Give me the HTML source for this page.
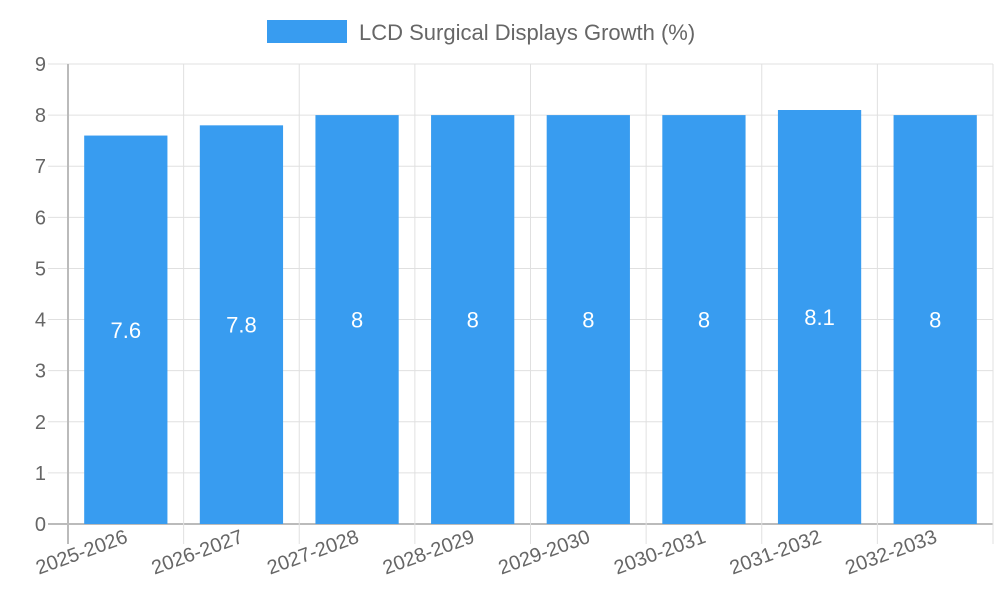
<!DOCTYPE html>
<html><head><meta charset="utf-8"><style>
html,body{margin:0;padding:0;background:#fff;}
svg{display:block;font-family:"Liberation Sans",sans-serif;}
</style></head><body>
<svg id="chart" width="1000" height="600"></svg>
<script>
const categories=["2025-2026","2026-2027","2027-2028","2028-2029","2029-2030","2030-2031","2031-2032","2032-2033"];
const values=[7.6,7.8,8,8,8,8,8.1,8];
const yTicks=[0,1,2,3,4,5,6,7,8,9];
const seriesName="LCD Surgical Displays Growth (%)";

const NS="http://www.w3.org/2000/svg";
const svg=document.getElementById('chart');
const L=68,R=993,T=64,B=524,yMax=9;
const step=(R-L)/categories.length;
const barW=step*0.72;
function y(v){return B-(v/yMax)*(B-T);}
function x(i){return L+step*i;}
function mk(tag,attrs,parent){const e=document.createElementNS(NS,tag);for(const k in attrs)e.setAttribute(k,attrs[k]);(parent||svg).appendChild(e);return e;}

const grid=mk('g',{});


yTicks.forEach(t=>{
  const ln=mk('line',{x1:48,x2:R,y1:y(t),y2:y(t),stroke:t===0?'#bbb':'#e0e0e0','stroke-width':t===0?2:1},grid);
  
  
  const tx=mk('text',{x:46,y:y(t)+7,'text-anchor':'end','font-size':20,fill:'#666'});
  tx.textContent=t;
  
  
});
for(let i=0;i<=categories.length;i++){
  const ln=mk('line',{x1:x(i),x2:x(i),y1:T,y2:544,stroke:i===0?'#bbb':'#e0e0e0','stroke-width':i===0?2:1},grid);
  
  
}
categories.forEach((c,i)=>{
  const cx=x(i)+step/2;
  const r=mk('rect',{x:cx-barW/2,y:y(values[i]),width:barW,height:B-y(values[i]),fill:'#389cf0'});
  
  
  const v=mk('text',{x:cx,y:(y(values[i])+B)/2+8,'text-anchor':'middle','font-size':22,fill:'#fff'});
  v.textContent=values[i];
  
  
  const lx=cx+3,ly=542;
  const t=mk('text',{x:lx,y:ly,'text-anchor':'end','font-size':20,fill:'#666',transform:`rotate(-20 ${lx} ${ly})`});
  t.textContent=c;
  
  
});
const lg=mk('g',{});


mk('rect',{x:267,y:20,width:80,height:23,fill:'#389cf0'},lg);
const lt=mk('text',{x:359,y:40,'font-size':22,fill:'#666'},lg);
lt.textContent=seriesName;


</script>
</body></html>
